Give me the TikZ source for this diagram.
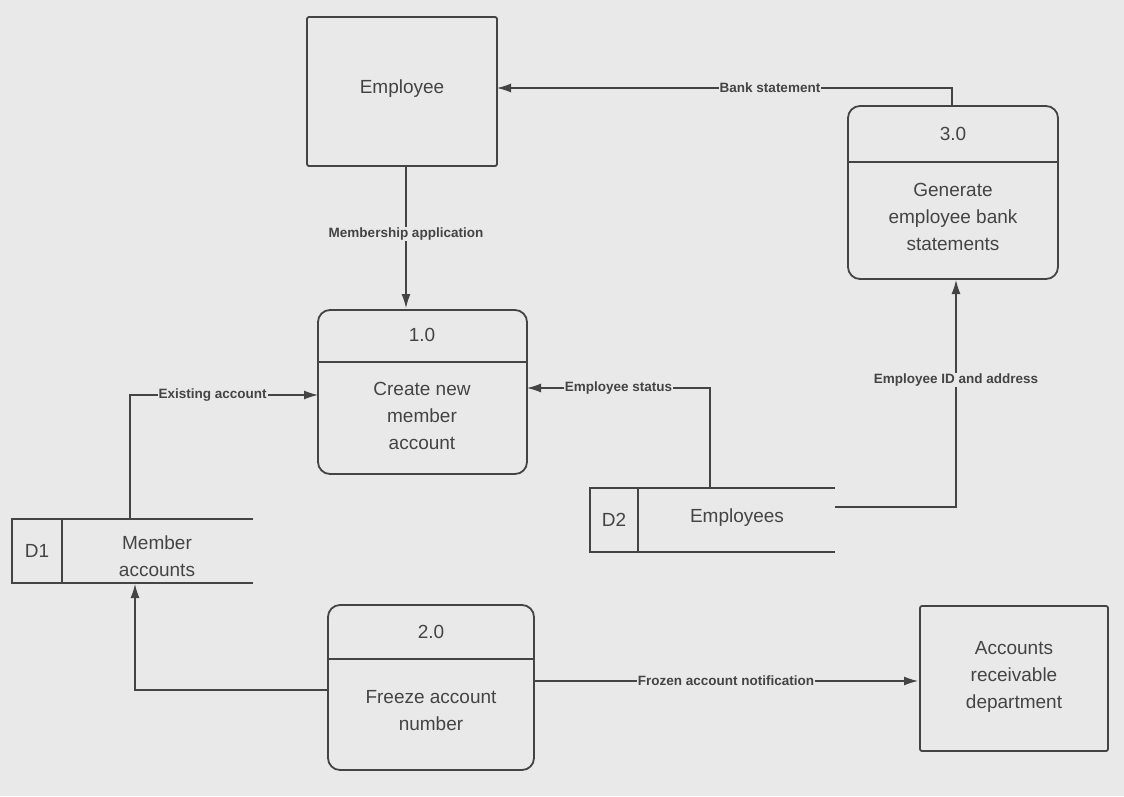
\documentclass[tikz,border=0pt]{standalone}
\usepackage{fontspec}
\setmainfont{Liberation Sans}
\usetikzlibrary{arrows.meta}
\definecolor{bg}{HTML}{E9E9E9}
\definecolor{ink}{HTML}{444444}
\begin{document}
\begin{tikzpicture}[x=1pt,y=-1pt,
  ext/.style={draw=ink,line width=1.8pt,rounded corners=2pt},
  proc/.style={draw=ink,line width=1.8pt,rounded corners=12pt},
  txt/.style={font=\fontsize{19}{27}\selectfont,text=ink,align=center},
  lbl/.style={font=\bfseries\fontsize{13.5}{16}\selectfont,text=ink,fill=bg,inner sep=1pt},
  flow/.style={draw=ink,line width=1.3pt,-{Latex[length=14pt,width=9pt]}},
  ln/.style={draw=ink,line width=1.6pt}]
\fill[bg] (0,0) rectangle (1124,796);
\useasboundingbox (0,0) rectangle (1124,796);
% externals
\draw[ext] (307,17) rectangle (497,166);
\node[txt] (emp) at (402,89) {Employee};
\coordinate (empS) at (406,166); \coordinate (empE) at (497,88);
\draw[ext] (920,606) rectangle (1108,751);
\node[txt] (ar) at (1014,677) {Accounts\\receivable\\department};
\coordinate (arW) at (918,681);
% processes
\draw[proc] (318,310) rectangle (527,474); \draw[ln] (318,362)--(527,362);
\node[txt] (p1n) at (422,335) {1.0};
\node[txt] (p1) at (422,416) {Create new\\member\\account};
\draw[proc] (848,106) rectangle (1058,279); \draw[ln] (848,162)--(1058,162);
\node[txt] (p3n) at (953,134) {3.0};
\node[txt] (p3) at (953,217) {Generate\\employee bank\\statements};
\draw[proc] (328,605) rectangle (534,770); \draw[ln] (328,659)--(534,659);
\node[txt] (p2n) at (431,632) {2.0};
\node[txt] (p2) at (431,711) {Freeze account\\number};
% data stores
\draw[ln] (253,519)--(12,519)--(12,583)--(253,583); \draw[ln] (62,519)--(62,583);
\node[txt] (d1n) at (37,551) {D1};
\node[txt] (d1) at (157,556) {Member\\accounts};
\draw[ln] (835,488)--(590,488)--(590,552)--(835,552); \draw[ln] (638,488)--(638,552);
\node[txt] (d2n) at (614,520) {D2};
\node[txt] (d2) at (737,518) {Employees};
% flows
\draw[flow] (empS) -- (406,308) node[lbl,pos=0.48] {Membership application};
\draw[flow] (952,106) |- (empE) node[lbl,pos=0.7] {Bank statement};
\draw[flow] (130,519) |- (318,395) node[lbl,pos=0.72] {Existing account};
\draw[flow] (710,488) |- (527,388) node[lbl,pos=0.75] {Employee status};
\draw[flow] (835,507) -| (956,280) node[lbl,pos=0.78] {Employee ID and address};
\draw[flow] (328,690) -| (135,584);
\draw[flow] (534,681) -- (arW) node[lbl,pos=0.5] {Frozen account notification};
\end{tikzpicture}
\end{document}
